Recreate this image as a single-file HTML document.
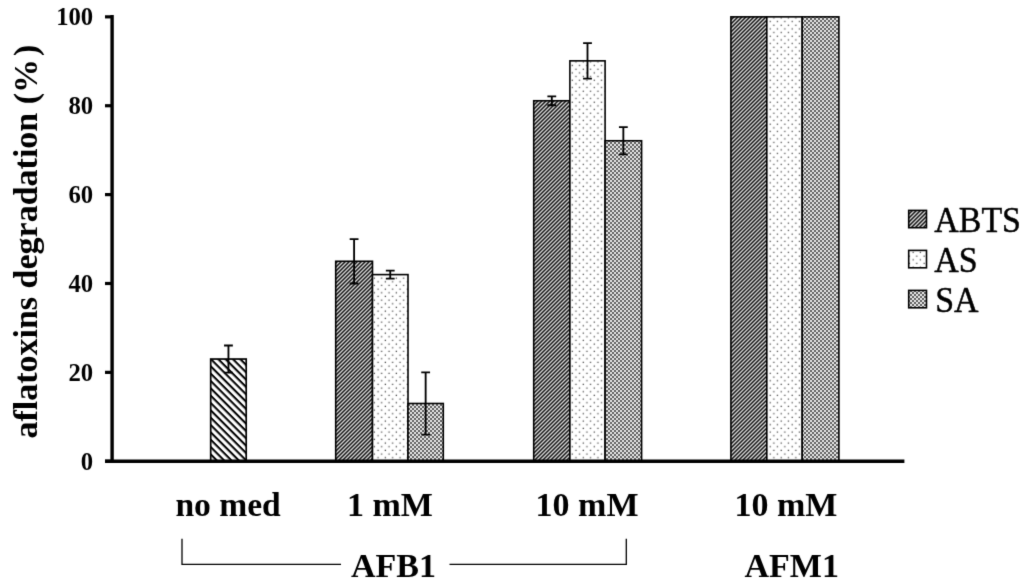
<!DOCTYPE html>
<html lang="en">
<head>
<meta charset="utf-8">
<title>Aflatoxins degradation chart</title>
<style>
html,body{margin:0;padding:0;background:#fff;}
body{width:1024px;height:583px;overflow:hidden;}
svg{display:block;}
text{font-family:"Liberation Serif","Times New Roman",serif;fill:#000;}
.tk{font-size:24.7px;font-weight:bold;}
.cat{font-size:34px;font-weight:bold;}
.lg{font-size:34.6px;stroke:#000;stroke-width:0.45px;}
.ttl{font-size:34px;font-weight:bold;}
</style>
</head>
<body>
<svg width="1024" height="583" viewBox="0 0 1024 583">
<defs>
<filter id="soft" x="0" y="0" width="1024" height="583" filterUnits="userSpaceOnUse" color-interpolation-filters="sRGB"><feConvolveMatrix order="3" kernelMatrix="0.01134 0.08382 0.01134 0.08382 0.61935 0.08382 0.01134 0.08382 0.01134" divisor="1" edgeMode="duplicate" preserveAlpha="true"/></filter>
<pattern id="p-nomed" patternUnits="userSpaceOnUse" width="5.19" height="5.19" patternTransform="rotate(45)">
<rect width="5.19" height="5.19" fill="#fff"/><rect y="0" width="5.19" height="2.05" fill="#000"/>
</pattern>
<pattern id="p-abts" patternUnits="userSpaceOnUse" width="2.8284" height="2.8284" patternTransform="rotate(-45)">
<rect width="2.8284" height="2.8284" fill="#000"/><rect y="0" width="2.8284" height="1.3" fill="#fff"/>
</pattern>
<pattern id="p-as" patternUnits="userSpaceOnUse" width="7.33" height="7.33" patternTransform="translate(-0.7 -1.65)">
<rect width="7.33" height="7.33" fill="#fff"/><rect x="0.6" y="0.6" width="1.3" height="1.3" fill="#505050"/><rect x="4.27" y="4.27" width="1.3" height="1.3" fill="#505050"/>
</pattern>
<pattern id="p-sa" patternUnits="userSpaceOnUse" width="4" height="4">
<rect width="4" height="4" fill="#e8e8e8"/><rect x="0" y="0" width="2" height="2" fill="#606060"/><rect x="2" y="2" width="2" height="2" fill="#606060"/>
</pattern>
</defs>
<g filter="url(#soft)">
<rect width="1024" height="583" fill="#fff"/>
<rect x="210.70" y="359.04" width="35.50" height="102.21" fill="url(#p-nomed)" stroke="#000" stroke-width="1.7"/>
<rect x="335.70" y="261.27" width="36.80" height="199.98" fill="url(#p-abts)" stroke="#000" stroke-width="1.6"/>
<rect x="372.50" y="274.60" width="35.50" height="186.65" fill="url(#p-as)" stroke="#000" stroke-width="1.6"/>
<rect x="408.00" y="403.48" width="35.30" height="57.77" fill="url(#p-sa)" stroke="#000" stroke-width="1.6"/>
<rect x="533.70" y="100.75" width="36.20" height="360.50" fill="url(#p-abts)" stroke="#000" stroke-width="1.6"/>
<rect x="569.90" y="60.85" width="35.20" height="400.40" fill="url(#p-as)" stroke="#000" stroke-width="1.6"/>
<rect x="605.10" y="140.75" width="36.50" height="320.50" fill="url(#p-sa)" stroke="#000" stroke-width="1.6"/>
<rect x="730.90" y="16.85" width="35.90" height="444.40" fill="url(#p-abts)" stroke="#000" stroke-width="1.6"/>
<rect x="766.80" y="16.85" width="35.40" height="444.40" fill="url(#p-as)" stroke="#000" stroke-width="1.6"/>
<rect x="802.20" y="16.85" width="36.70" height="444.40" fill="url(#p-sa)" stroke="#000" stroke-width="1.6"/>
<path d="M228.45 345.48V372.59M224.05 345.48h8.8M224.05 372.59h8.8" stroke="#000" stroke-width="1.85" fill="none"/>
<path d="M354.10 239.05V283.49M349.70 239.05h8.8M349.70 283.49h8.8" stroke="#000" stroke-width="1.85" fill="none"/>
<path d="M390.25 270.60V278.60M385.85 270.60h8.8M385.85 278.60h8.8" stroke="#000" stroke-width="1.85" fill="none"/>
<path d="M425.65 372.37V434.59M421.25 372.37h8.8M421.25 434.59h8.8" stroke="#000" stroke-width="1.85" fill="none"/>
<path d="M551.80 96.31V105.20M547.40 96.31h8.8M547.40 105.20h8.8" stroke="#000" stroke-width="1.85" fill="none"/>
<path d="M587.50 43.07V78.62M583.10 43.07h8.8M583.10 78.62h8.8" stroke="#000" stroke-width="1.85" fill="none"/>
<path d="M623.35 127.19V154.30M618.95 127.19h8.8M618.95 154.30h8.8" stroke="#000" stroke-width="1.85" fill="none"/>
<line x1="112.1" x2="112.1" y1="15" y2="463" stroke="#000" stroke-width="3.4"/>
<line x1="105" x2="904.4" y1="461.25" y2="461.25" stroke="#000" stroke-width="3.5"/>
<line x1="105" x2="112" y1="461.25" y2="461.25" stroke="#000" stroke-width="3.2"/>
<text x="93.2" y="469.55" text-anchor="end" class="tk">0</text>
<line x1="105" x2="112" y1="372.37" y2="372.37" stroke="#000" stroke-width="3.2"/>
<text x="93.2" y="380.67" text-anchor="end" class="tk">20</text>
<line x1="105" x2="112" y1="283.49" y2="283.49" stroke="#000" stroke-width="3.2"/>
<text x="93.2" y="291.79" text-anchor="end" class="tk">40</text>
<line x1="105" x2="112" y1="194.61" y2="194.61" stroke="#000" stroke-width="3.2"/>
<text x="93.2" y="202.91" text-anchor="end" class="tk">60</text>
<line x1="105" x2="112" y1="105.73" y2="105.73" stroke="#000" stroke-width="3.2"/>
<text x="93.2" y="114.03" text-anchor="end" class="tk">80</text>
<line x1="105" x2="112" y1="16.85" y2="16.85" stroke="#000" stroke-width="3.2"/>
<text x="93.2" y="25.15" text-anchor="end" class="tk">100</text>
<text class="ttl" transform="translate(37.3 438.6) rotate(-90)">aflatoxins degradation (%<tspan dx="3">)</tspan></text>
<text class="cat" x="175.4" y="516.3" style="font-size:33.6px">no med</text>
<text class="cat" x="347" y="516.3">1 mM</text>
<text class="cat" x="535.6" y="516.3">10 mM</text>
<text class="cat" x="734.5" y="516.3">10 mM</text>
<text class="cat" x="351" y="576.5">AFB1</text>
<text class="cat" x="744.5" y="576.5">AFM1</text>
<path d="M182 538.7V564.4H341M449.5 564.4H626.3V538.7" fill="none" stroke="#000" stroke-width="1.3"/>
<rect x="908.7" y="210.4" width="17.8" height="17.3" fill="url(#p-abts)" stroke="#000" stroke-width="1.6"/>
<rect x="908.7" y="250.4" width="17.8" height="17.4" fill="url(#p-as)" stroke="#000" stroke-width="1.6"/>
<rect x="908.7" y="290.4" width="17.8" height="17.4" fill="url(#p-sa)" stroke="#000" stroke-width="1.6"/>
<text class="lg" transform="translate(934.3 231.9) scale(0.98 1.065)">ABTS</text>
<text class="lg" transform="translate(934.3 272.2) scale(0.98 1.065)">AS</text>
<text class="lg" transform="translate(935.2 312) scale(0.98 1.065)">SA</text>
</g>
</svg>
</body>
</html>
